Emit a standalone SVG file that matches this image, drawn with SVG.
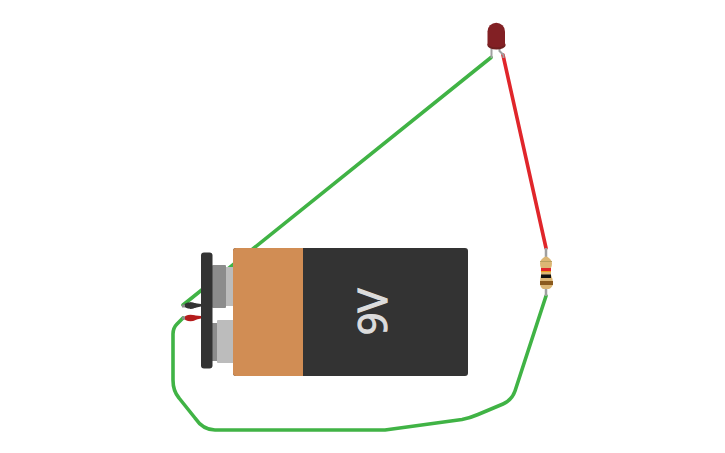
<svg xmlns="http://www.w3.org/2000/svg" width="725" height="453" viewBox="0 0 725 453">
<style>
.wire{fill:none;stroke-width:3.6;stroke-linecap:round;stroke-linejoin:round}
.g{stroke:#40b345}
.r{stroke:#e0262b}
.lead{fill:none;stroke:#a0a0a0;stroke-width:2}
</style>
<rect width="725" height="453" fill="#fff"/>
<g id="connectors">
<path class="wire g" d="M183 305L491 57.500"/>
<path class="wire g" d="M183 318L177 324Q173 328 173 334L173 380Q173 391 179 398L195 418Q203 430 215 430L385 430L462 419.500Q470 418 478 414.500L503 404Q512 400 515 391L546 296"/>
<path class="wire r" d="M503 55L546 248"/>
</g>
<g id="battery">
<rect x="225" y="267" width="10" height="39" fill="#bcbcbc"/>
<rect x="212" y="265" width="14" height="43" rx="1" fill="#8c8c8c"/>
<rect x="211" y="323" width="8" height="38" fill="#8c8c8c"/>
<rect x="217" y="320" width="18" height="43" rx="1" fill="#bcbcbc"/>
<path d="M190 302.500L201 304L201 306.500L190 309Z" fill="#333"/>
<ellipse cx="190.500" cy="305.500" rx="6.500" ry="3.300" fill="#333"/>
<rect x="182" y="304.500" width="3" height="3" fill="#8c8c8c"/>
<path d="M190 315L201 316L201 318.500L190 321Z" fill="#b51c1c"/>
<ellipse cx="190.500" cy="318" rx="6.500" ry="3.300" fill="#b51c1c"/>
<rect x="182" y="316.500" width="3" height="3" fill="#8c8c8c"/>
<rect x="201" y="252.500" width="11.500" height="116" rx="3" fill="#333"/>
<rect x="233" y="248" width="235" height="128" rx="3" fill="#333"/>
<path d="M303 248L236 248Q233 248 233 251L233 373Q233 376 236 376L303 376Z" fill="#d18d54"/>
<text transform="translate(387 312) rotate(-90)" text-anchor="middle" font-family="'Open Sans',sans-serif" font-size="40" fill="#dcdcdc" stroke="#dcdcdc" stroke-width="1.200">9V</text>
</g>
<g id="led">
<path class="lead" d="M491.500 48L491.500 58"/>
<path class="lead" d="M499.500 48L499.500 51L503.500 55L503.500 58"/>
<ellipse cx="496.500" cy="45" rx="9.200" ry="4.500" fill="#6e2020"/>
<path d="M487.500 45L487.500 31.500A8.750 8.750 0 0 1 505 31.500L505 45Q496.500 50 487.500 45Z" fill="#822024"/>
</g>
<g id="resistor">
<path d="M546 248L546 258M546 286L546 296" fill="none" stroke="#a0a0a0" stroke-width="2.500"/>
<path d="M543 258Q546 255 549 258Q552 260 552 263Q552 266 551 268L551 275Q553 279 553 283Q553 287 549 289L543 289Q540 287 540 283Q540 279 541 275L541 268Q540 266 540 263Q540 260 543 258Z" fill="#dcb674"/>
<rect x="540" y="261" width="12" height="1" fill="#b8a060"/>
<rect x="541" y="268" width="10" height="3" fill="#e0262b"/>
<rect x="541" y="271" width="10" height="1" fill="#f0a020"/>
<rect x="541" y="274.500" width="10" height="3.500" fill="#111"/>
<rect x="540" y="281" width="13" height="4" fill="#8b5a1e"/>
</g>
</svg>
